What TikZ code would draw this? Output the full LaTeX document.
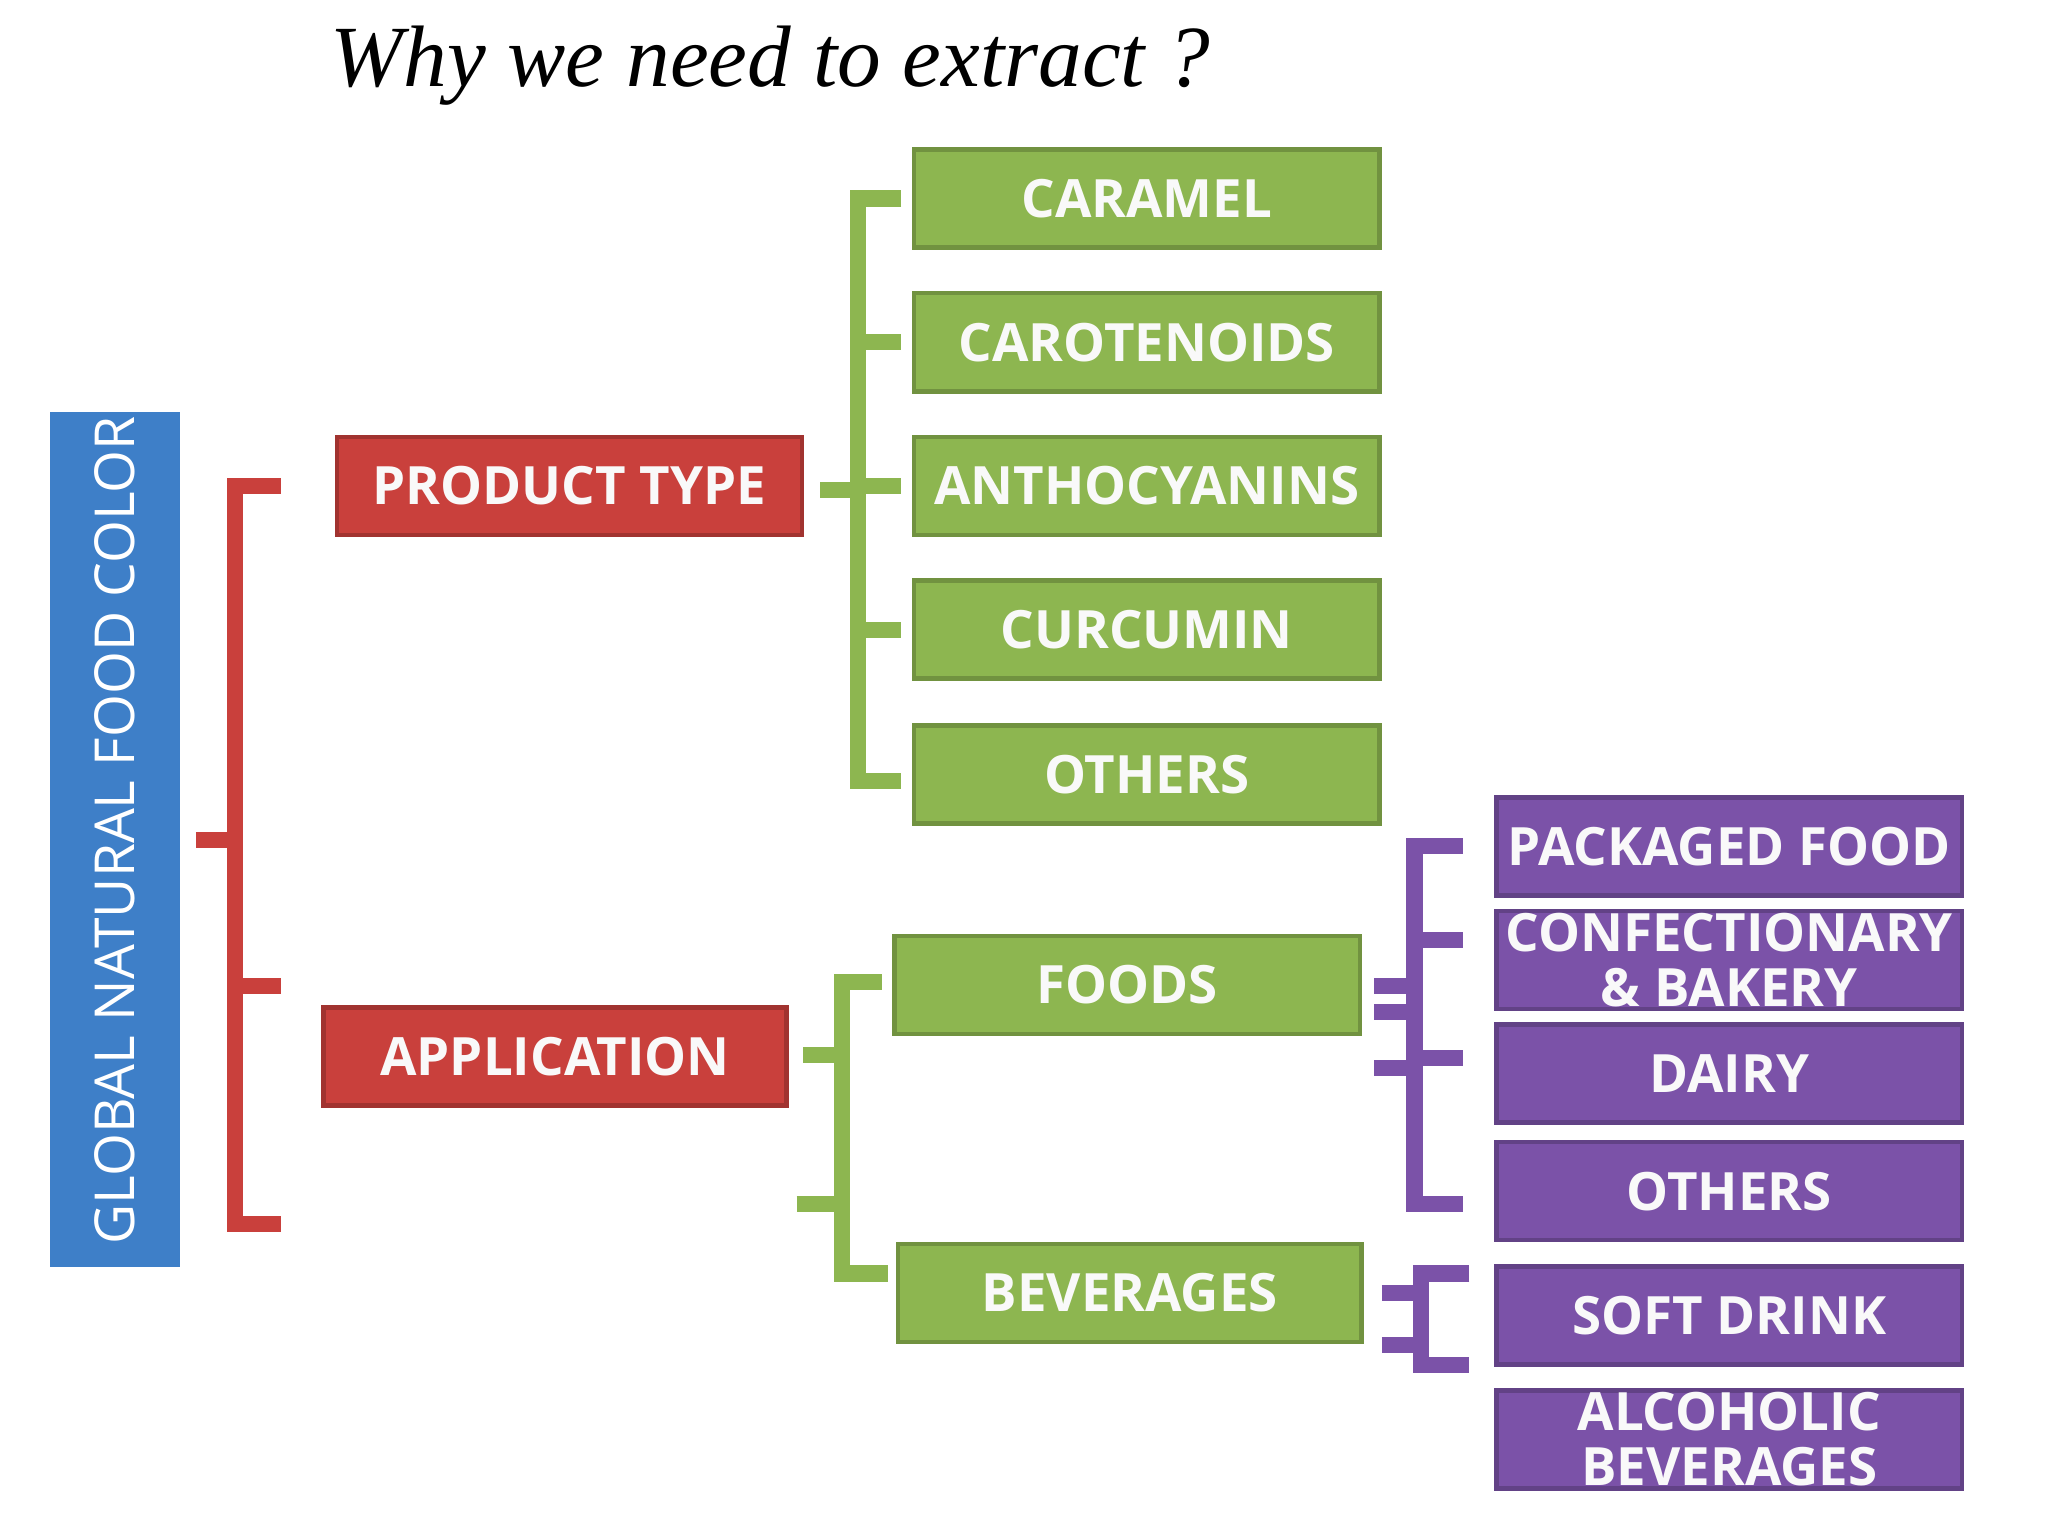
\documentclass[tikz,border=0pt]{standalone}
\usepackage{fontspec}
\setsansfont{Open Sans}
\setmainfont{Liberation Serif}
\definecolor{rd}{HTML}{C9403C}
\definecolor{gr}{HTML}{8DB650}
\definecolor{pu}{HTML}{7B52A8}
\definecolor{bl}{HTML}{3E7FC8}
\begin{document}
\begin{tikzpicture}[x=0.01cm,y=0.01cm,
 box/.style={fill=#1,draw=#1!80!black,line width=1pt,text=white!95!gray,font=\sffamily\bfseries\fontsize{11.5}{12}\selectfont,minimum height=0.75cm,inner sep=0pt,align=center},
 brk/.style={draw=#1,line width=3.5pt}]
\useasboundingbox (0,0) rectangle (1568,-1176);
\fill[white] (0,0) rectangle (1568,-1176);
\node[font=\itshape\fontsize{19}{20}\selectfont] (title) at (590,-50) {Why we need to extract ?};
\node[fill=bl,minimum width=1cm,minimum height=6.54cm,inner sep=0pt] (g) at (88,-643) {};
\node[rotate=90,text=white,font=\sffamily\fontsize{12}{12}\selectfont,anchor=west] at (88,-965) {GLOBAL NATURAL FOOD COLOR MARKET};
\node[box=rd,minimum width=3.56cm] (pt) at (436,-372) {PRODUCT TYPE};
\node[box=rd,minimum width=3.54cm] (ap) at (425,-809) {APPLICATION};
\foreach \n/\y/\t in {c1/152/CARAMEL,c2/262/CAROTENOIDS,c3/372/ANTHOCYANINS,c4/482/CURCUMIN,c5/593/OTHERS}
 \node[box=gr,minimum width=3.56cm] (\n) at (878,-\y) {\t};
\node[box=gr,minimum width=3.56cm] (fo) at (863,-754) {FOODS};
\node[box=gr,minimum width=3.55cm] (bv) at (865,-990) {BEVERAGES};
\foreach \n/\y/\t in {p1/648/PACKAGED FOOD,p2/735/CONFECTIONARY\\\& BAKERY,p3/822/DAIRY,p4/912/OTHERS,p5/1007/SOFT DRINK,p6/1102/ALCOHOLIC\\BEVERAGES}
 \node[box=pu,minimum width=3.56cm,font=\sffamily\bfseries\fontsize{11.5}{12}\selectfont] (\n) at (1324,-\y) {\t};
% red bracket
\draw[brk=rd] (215,-372) -- (180,-372) -- (180,-937) -- (215,-937);
\draw[brk=rd] (150,-643) -- (180,-643) (180,-755) -- (215,-755);
% green product bracket
\draw[brk=gr] (690,-152) -- (657,-152) -- (657,-598) -- (690,-598);
\foreach \y in {262,372,482} \draw[brk=gr] (657,-\y) -- (690,-\y);
\draw[brk=gr] (628,-375) -- (657,-375);
% application bracket
\draw[brk=gr] (675,-752) -- (645,-752) -- (645,-975) -- (680,-975);
\draw[brk=gr] (615,-808) -- (645,-808) (610,-922) -- (645,-922);
% purple bracket
\draw[brk=pu] (1120,-648) -- (1083,-648) -- (1083,-922) -- (1120,-922);
\draw[brk=pu] (1083,-720) -- (1120,-720) (1083,-810) -- (1120,-810);
\foreach \y in {755,775,818} \draw[brk=pu] (1052,-\y) -- (1083,-\y);
% beverages bracket
\draw[brk=pu] (1125,-975) -- (1088,-975) -- (1088,-1045) -- (1125,-1045);
\draw[brk=pu] (1058,-990) -- (1088,-990) (1058,-1030) -- (1088,-1030);
\end{tikzpicture}
\end{document}
